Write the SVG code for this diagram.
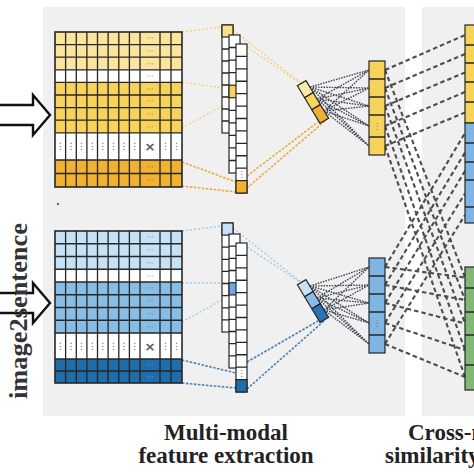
<svg xmlns="http://www.w3.org/2000/svg" width="474" height="474" viewBox="0 0 474 474">
<style>
.gl{fill:none;stroke:#262626;stroke-width:1.3}
.gb{fill:none;stroke:#262626;stroke-width:1.6}
.cell{stroke:#262626;stroke-width:1.2}
.dots{font-family:"DejaVu Sans",sans-serif;font-size:7px;fill:#555;text-anchor:middle;dominant-baseline:central}
.vd{font-family:"DejaVu Sans",sans-serif;font-size:9px;fill:#666;text-anchor:middle;dominant-baseline:central}
.lbl{font-family:"Liberation Serif",serif;font-weight:bold;font-size:23px;fill:#222}
.dash{fill:none;stroke:#4d4d4d;stroke-width:2.1;stroke-dasharray:4.5 3}
.fan{fill:none;stroke:#444b5a;stroke-width:1.4;stroke-dasharray:1.6 1.1}
.ly{fill:none;stroke:#f2d27c;stroke-width:1.4;stroke-dasharray:2 2}
.oy{fill:none;stroke:#eaa83a;stroke-width:1.6;stroke-dasharray:2.5 1.5}
.lb{fill:none;stroke:#a3cbe8;stroke-width:1.4;stroke-dasharray:2 2}
.db{fill:none;stroke:#4a80b4;stroke-width:1.6;stroke-dasharray:2.5 1.5}
.arrow{fill:#fff;stroke:#111;stroke-width:2.4;stroke-linejoin:miter}
</style>
<rect width="474" height="474" fill="#fff"/>
<rect x="43" y="7" width="362" height="409" fill="#f0f0f0"/>
<rect x="422" y="7" width="52" height="409" fill="#f0f0f0"/>

<g id="input-arrows">
<path class="arrow" d="M-2 105H33V95L50 115L33 135V125H-2"/>
<path class="arrow" d="M-2 293H33V283L50 303L33 323V313H-2"/>
</g>
<text transform="translate(27,399) rotate(-90)" style="font-family:'Liberation Serif',serif;font-weight:bold;font-size:25px;fill:#333" textLength="176" lengthAdjust="spacingAndGlyphs">image2sentence</text>
<circle cx="58" cy="204" r="1.3" fill="#6a6fb0"/>

<g id="connectors">
<path class="ly" d="M182 32L222 27M182 82L222 88M182 128L222 106"/>
<path class="oy" d="M182 162L236 182M182 186L236 192"/>
<path class="ly" d="M233 30L301 83M247 47L303 85"/>
<path class="oy" d="M247 176L318 122M247 188L325 121"/>
<path class="lb" d="M182 231L222 226M182 283L222 283M182 322L222 300"/>
<path class="db" d="M182 360L236 373M182 383L236 388"/>
<path class="lb" d="M233 228L301 282M247 247L303 284"/>
<path class="db" d="M247 362L318 321M247 389L325 320"/>
<path class="fan" d="M310 87L369 70M310 87L369 88M310 87L369 106M310 87L369 126M310 87L369 146M317 99L369 70M317 99L369 88M317 99L369 106M317 99L369 126M317 99L369 146M324 111L369 70M324 111L369 88M324 111L369 106M324 111L369 126M324 111L369 146"/>
<path class="fan" d="M310 286L369 267M310 286L369 285M310 286L369 303M310 286L369 323M310 286L369 344M317 298L369 267M317 298L369 285M317 298L369 303M317 298L369 323M317 298L369 344M324 310L369 267M324 310L369 285M324 310L369 303M324 310L369 323M324 310L369 344"/>
<path class="dash" d="M385 70L465 35M385 88L465 54M385 106L465 72.5M385 126L465 92M385 146L465 112.5"/>
<path class="dash" d="M385 70L465 277.5M385 88L465 300M385 106L465 323.5M385 126L465 350M385 146L465 377"/>
<path class="dash" d="M385 267L465 133M385 285L465 152.5M385 303L465 171M385 323L465 193.5M385 344L465 215"/>
<path class="dash" d="M385 267L465 277.5M385 285L465 300M385 303L465 323.5M385 323L465 350M385 344L465 377"/>
</g>

<g id="image-grid">
<rect x="55" y="32" width="127" height="37.8" fill="#fbe59c"/>
<rect x="55" y="69.8" width="127" height="12.6" fill="#fff"/>
<rect x="55" y="82.4" width="127" height="50.4" fill="#f8d35c"/>
<rect x="55" y="132.8" width="127" height="27.2" fill="#fff"/>
<rect x="55" y="160" width="127" height="27" fill="#f1b132"/>
<path class="gl" d="M55 44.6H182M55 57.2H182M55 69.8H182M55 82.4H182M55 95H182M55 107.6H182M55 120.2H182M55 132.8H182M55 160H182M55 173.5H182M65.6 32V187M76.3 32V187M86.9 32V187M97.5 32V187M108.1 32V187M118.8 32V187M129.4 32V187M140 32V187M160 32V187M171 32V187"/>
<rect class="gb" x="55" y="32" width="127" height="155"/>
<g class="dots">
<text x="150" y="38.3">⋯</text><text x="150" y="50.9">⋯</text><text x="150" y="63.5">⋯</text><text x="150" y="76.1">⋯</text><text x="150" y="88.7">⋯</text><text x="150" y="101.3">⋯</text><text x="150" y="113.9">⋯</text><text x="150" y="126.5">⋯</text><text x="150" y="166.8">⋯</text><text x="150" y="180.2">⋯</text>
</g>
<g class="vd">
<text x="60.3" y="146.4">⋮</text><text x="70.9" y="146.4">⋮</text><text x="81.6" y="146.4">⋮</text><text x="92.2" y="146.4">⋮</text><text x="102.8" y="146.4">⋮</text><text x="113.4" y="146.4">⋮</text><text x="124.1" y="146.4">⋮</text><text x="134.7" y="146.4">⋮</text><text x="165.5" y="146.4">⋮</text><text x="176.5" y="146.4">⋮</text>
<text x="150" y="146.4" style="font-size:13px;font-weight:bold;fill:#555">×</text>
</g>
</g>

<g id="text-grid">
<rect x="55" y="231" width="127" height="38.25" fill="#c6e2f6"/>
<rect x="55" y="269.25" width="127" height="12.75" fill="#fff"/>
<rect x="55" y="282" width="127" height="51" fill="#88bde6"/>
<rect x="55" y="333" width="127" height="26" fill="#fff"/>
<rect x="55" y="359" width="127" height="24" fill="#1f6dab"/>
<path class="gl" d="M55 243.75H182M55 256.5H182M55 269.25H182M55 282H182M55 294.75H182M55 307.5H182M55 320.25H182M55 333H182M55 359H182M55 371H182M65.6 231V383M76.3 231V383M86.9 231V383M97.5 231V383M108.1 231V383M118.8 231V383M129.4 231V383M140 231V383M160 231V383M171 231V383"/>
<rect class="gb" x="55" y="231" width="127" height="152"/>
<g class="dots">
<text x="150" y="237.4">⋯</text><text x="150" y="250.1">⋯</text><text x="150" y="262.9">⋯</text><text x="150" y="275.6">⋯</text><text x="150" y="288.4">⋯</text><text x="150" y="301.1">⋯</text><text x="150" y="313.9">⋯</text><text x="150" y="326.6">⋯</text><text x="150" y="365" style="fill:#9cc3e4">⋯</text><text x="150" y="377" style="fill:#9cc3e4">⋯</text>
</g>
<g class="vd">
<text x="60.3" y="346">⋮</text><text x="70.9" y="346">⋮</text><text x="81.6" y="346">⋮</text><text x="92.2" y="346">⋮</text><text x="102.8" y="346">⋮</text><text x="113.4" y="346">⋮</text><text x="124.1" y="346">⋮</text><text x="134.7" y="346">⋮</text><text x="165.5" y="346">⋮</text><text x="176.5" y="346">⋮</text>
<text x="150" y="346" style="font-size:13px;font-weight:bold;fill:#555">×</text>
</g>
</g>

<g id="image-feature-stack">
<rect class="cell" x="222" y="25" width="11" height="108" fill="#fff"/>
<rect class="cell" x="222" y="25" width="11" height="12" fill="#fbe08a"/>
<path class="gl" d="M222 49H233M222 61H233M222 73H233M222 85H233M222 97H233M222 109H233M222 121H233"/>
<rect class="cell" x="229" y="35" width="11" height="138" fill="#fff"/>
<rect class="cell" x="229" y="85.2" width="11" height="12.5" fill="#f8d35c"/>
<path class="gl" d="M229 47.5H240M229 60.1H240M229 72.6H240M229 110.3H240M229 122.8H240M229 135.4H240M229 147.9H240M229 160.5H240"/>
<rect class="cell" x="236" y="44" width="11" height="149" fill="#fff"/>
<rect class="cell" x="236" y="180.6" width="11" height="12.4" fill="#f1b132"/>
<path class="gl" d="M236 56.4H247M236 68.8H247M236 81.25H247M236 93.7H247M236 106.1H247M236 118.5H247M236 130.9H247M236 143.3H247M236 155.75H247M236 168.2H247"/>
<text class="vd" x="241.5" y="174.4" style="font-size:8px">⋮</text>
</g>

<g id="text-feature-stack">
<rect class="cell" x="222" y="223" width="11" height="109" fill="#fff"/>
<rect class="cell" x="222" y="223" width="11" height="12.1" fill="#c6e2f6"/>
<path class="gl" d="M222 247.2H233M222 259.3H233M222 271.4H233M222 283.5H233M222 295.7H233M222 307.8H233M222 319.9H233"/>
<rect class="cell" x="229" y="234" width="11" height="134" fill="#fff"/>
<rect class="cell" x="229" y="282.7" width="11" height="12.2" fill="#6fa9dc"/>
<path class="gl" d="M229 246.2H240M229 258.4H240M229 270.5H240M229 307.1H240M229 319.3H240M229 331.5H240M229 343.6H240M229 355.8H240"/>
<rect class="cell" x="236" y="243" width="11" height="149" fill="#fff"/>
<rect class="cell" x="236" y="379.6" width="11" height="12.4" fill="#1f6dab"/>
<path class="gl" d="M236 255.4H247M236 267.8H247M236 280.25H247M236 292.7H247M236 305.1H247M236 317.5H247M236 329.9H247M236 342.3H247M236 354.75H247M236 367.2H247"/>
<text class="vd" x="241.5" y="373.4" style="font-size:8px">⋮</text>
</g>

<g id="image-pooled" transform="translate(313,102) rotate(-31)">
<rect class="cell" x="-5" y="-22" width="10" height="14" fill="#fbeaa5"/>
<rect class="cell" x="-5" y="-8" width="10" height="14" fill="#f8d55e"/>
<rect class="cell" x="-5" y="6" width="10" height="16" fill="#f2b030"/>
</g>
<g id="text-pooled" transform="translate(313,301) rotate(-31)">
<rect class="cell" x="-5" y="-22" width="10" height="14" fill="#c6e2f6"/>
<rect class="cell" x="-5" y="-8" width="10" height="14" fill="#86bce6"/>
<rect class="cell" x="-5" y="6" width="10" height="16" fill="#2a74b5"/>
</g>

<g id="image-embedding">
<rect class="cell" x="369" y="61" width="16" height="94" fill="#f8d35c"/>
<path class="gl" d="M369 79H385M369 97H385M369 115H385M369 137H385"/>
<text class="vd" x="377" y="126" style="font-size:8px">⋮</text>
</g>
<g id="text-embedding">
<rect class="cell" x="369" y="258" width="16" height="95" fill="#7fb5e2"/>
<path class="gl" d="M369 276H385M369 294H385M369 312H385M369 335H385"/>
<text class="vd" x="377" y="323.5" style="font-size:8px">⋮</text>
</g>

<g id="similarity-column">
<rect class="cell" x="465" y="25" width="16" height="98" fill="#f8d35c"/>
<path class="gl" d="M465 45H481M465 63H481M465 82H481M465 102H481"/>
<rect class="cell" x="465" y="123" width="16" height="100" fill="#7fb5e2"/>
<path class="gl" d="M465 143H481M465 162H481M465 180H481M465 207H481"/>
<rect class="cell" x="465" y="267" width="16" height="123" fill="#80b874"/>
<path class="gl" d="M465 288H481M465 312H481M465 335H481M465 365H481"/>
</g>

<g id="labels">
<text class="lbl" x="226" y="440" text-anchor="middle">Multi-modal</text>
<text class="lbl" x="226" y="463" text-anchor="middle">feature extraction</text>
<text class="lbl" x="408" y="440">Cross-modal</text>
<text class="lbl" x="385" y="463">similarity</text>
</g>
</svg>
